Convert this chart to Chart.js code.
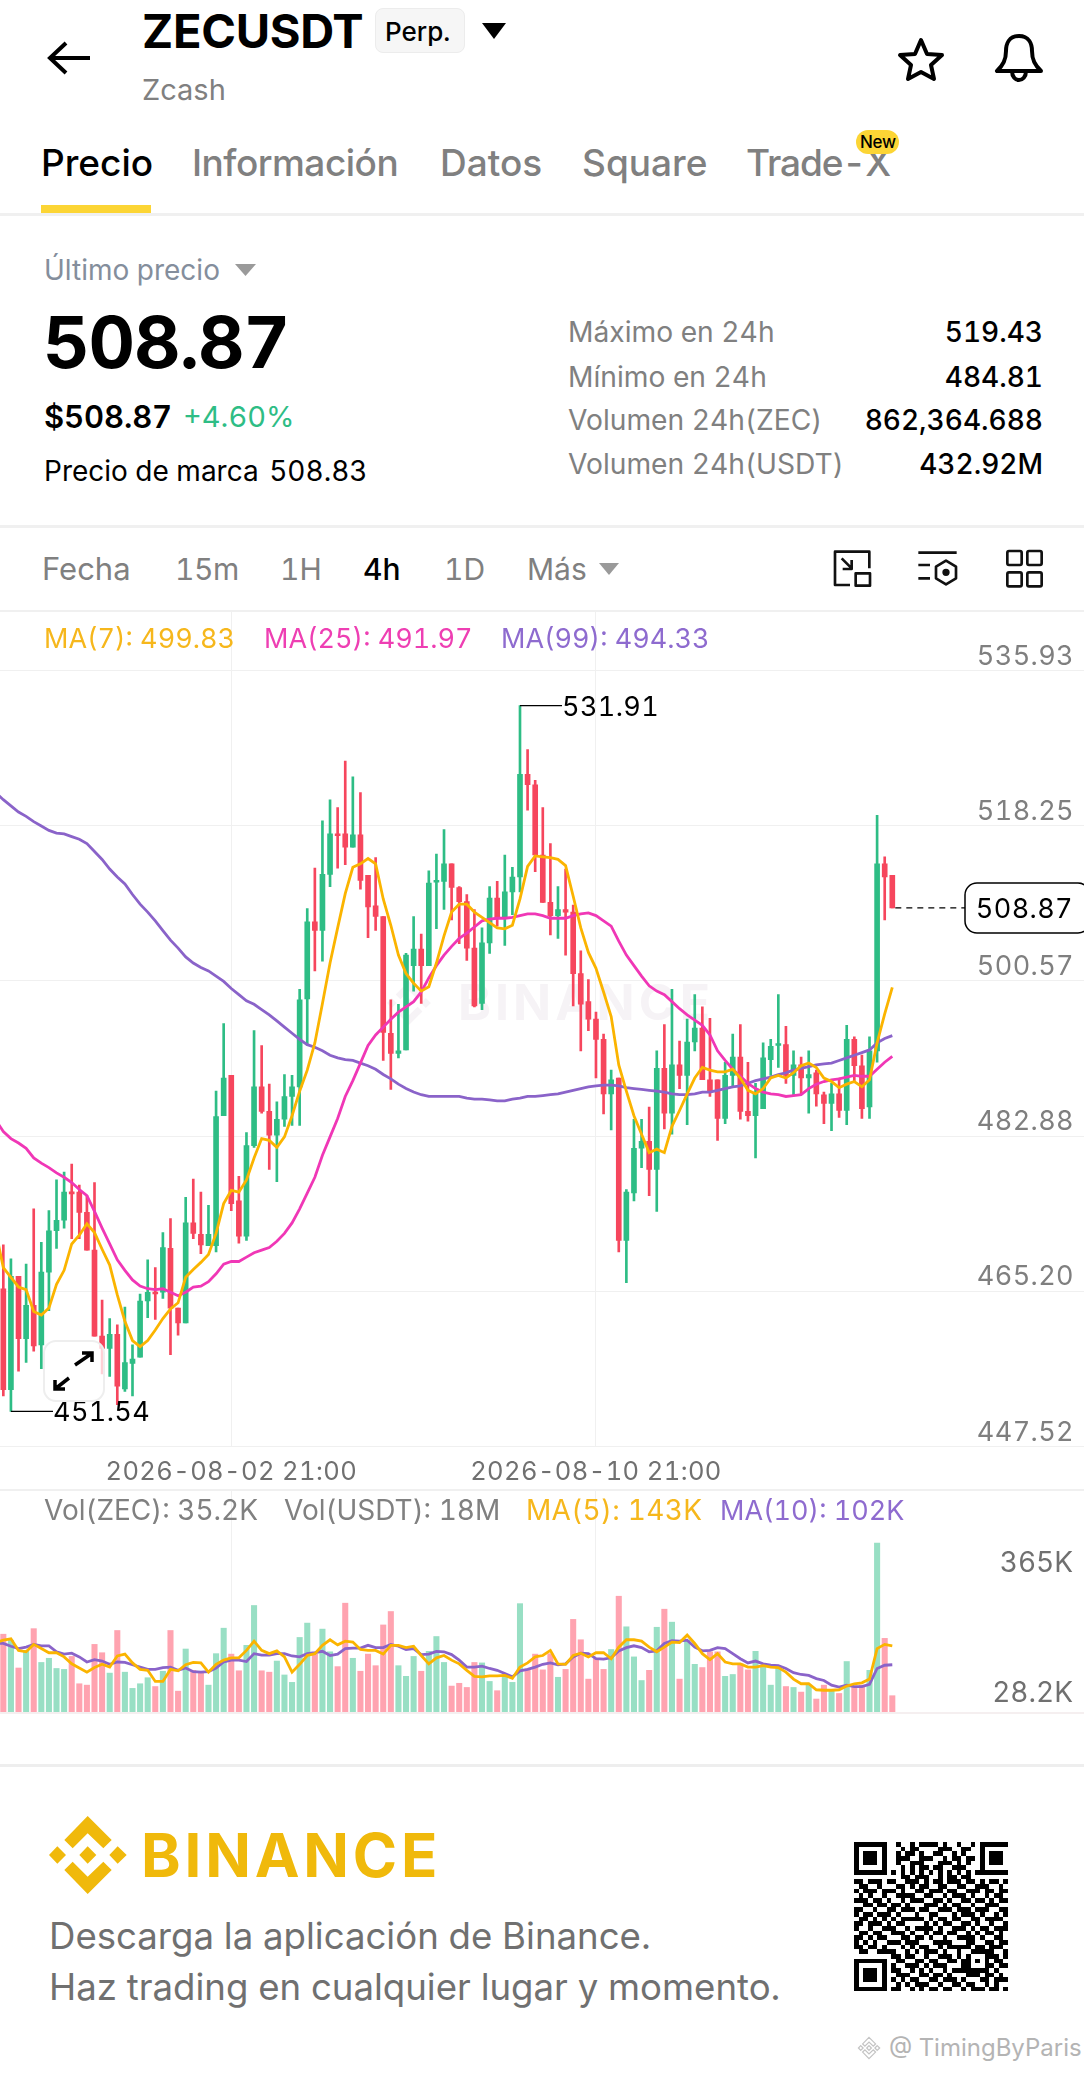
<!DOCTYPE html>
<html>
<head>
<meta charset="utf-8">
<title>ZECUSDT</title>
<script src="https://cdn.jsdelivr.net/npm/chart.js@4"></script>
<style>
html, body { margin: 0; padding: 0; background: #fff; }
body { position: relative; width: 1084px; height: 2073px; overflow: hidden; font-family: Inter, "Noto Sans", sans-serif; font-variant-numeric: tabular-nums; }
.t { position: absolute; transform: translateY(-50%); white-space: nowrap; line-height: 1.2; }
.line { position: absolute; left: 0; width: 1084px; background: #f0f0f0; }
canvas, svg { position: absolute; display: block; }
.g { color: #808080; }
</style>
</head>
<body>

<!-- header -->
<svg style="left:44px;top:38px" width="50" height="40" viewBox="0 0 50 40" fill="none" stroke="#000" stroke-width="4"><path d="M46 20H6M22 5L6 20l16 15"/></svg>
<div class="t" style="left:142px;top:31px;font-size:47px;font-weight:700;letter-spacing:-.3px">ZECUSDT</div>
<div style="position:absolute;left:375px;top:8px;width:88px;height:43px;background:#f6f6f6;border:1px solid #ececec;border-radius:8px"></div>
<div class="t" style="left:385px;top:32px;font-size:26px;font-weight:500">Perp.</div>
<svg style="left:482px;top:23px" width="24" height="16"><path d="M0 0H24L12 16Z" fill="#000"/></svg>
<div class="t g" style="left:142px;top:90px;font-size:29px">Zcash</div>
<svg style="left:897px;top:36px" width="48" height="46" viewBox="0 0 48 46" fill="none" stroke="#000" stroke-width="4" stroke-linejoin="round"><path d="M24 4l6 14 15 1-11 10 3 14-13-7-13 7 3-14L3 19l15-1z"/></svg>
<svg style="left:994px;top:33px" width="50" height="50" viewBox="0 0 50 50" fill="none" stroke="#000" stroke-width="4" stroke-linejoin="round"><path d="M25 3c-10 0-13 8-13 15 0 9-3 14-9 20h44c-6-6-9-11-9-20 0-7-3-15-13-15zM18 38c0 12 14 12 14 0"/></svg>

<!-- tabs -->
<div class="t" style="left:41px;top:163px;font-size:37px;font-weight:500">Precio</div>
<div class="t g" style="left:192px;top:163px;font-size:37px;font-weight:500;letter-spacing:-.5px">Información</div>
<div class="t g" style="left:440px;top:163px;font-size:37px;font-weight:500">Datos</div>
<div class="t g" style="left:582px;top:163px;font-size:37px;font-weight:500">Square</div>
<div class="t g" style="left:746px;top:163px;font-size:37px;font-weight:500;letter-spacing:-1.1px">Trade-X</div>
<div style="position:absolute;left:856px;top:130px;width:43px;height:24px;background:#fcd535;border-radius:12px"></div>
<div class="t" style="left:860px;top:142px;font-size:17px;font-weight:500;letter-spacing:-.3px">New</div>
<div style="position:absolute;left:41px;top:205px;width:110px;height:8px;background:#fcd535"></div>
<div class="line" style="top:213px;height:3px"></div>

<!-- price block -->
<div class="t" style="left:44px;top:271px;font-size:28px;color:#848e9c">Último precio</div>
<svg style="left:235px;top:264px" width="21" height="12"><path d="M0 0H21L10.5 12Z" fill="#9a9a9a"/></svg>
<div class="t" style="left:43px;top:342px;font-size:72px;font-weight:700;letter-spacing:-1px">508.87</div>
<div class="t" style="left:44px;top:417px;font-size:31px;font-weight:600;letter-spacing:-.1px">$508.87</div>
<div class="t" style="left:183px;top:417px;font-size:29px;color:#2ebd85">+4.60%</div>
<div class="t" style="left:44px;top:472px;font-size:28px">Precio de marca <span style="margin-left:3px">508.83</span></div>
<div class="t g" style="left:568px;top:333px;font-size:28.2px">Máximo en 24h</div>
<div class="t g" style="left:568px;top:378px;font-size:28.2px">Mínimo en 24h</div>
<div class="t g" style="left:568px;top:421px;font-size:28.2px">Volumen 24h(ZEC)</div>
<div class="t g" style="left:568px;top:465px;font-size:28.2px">Volumen 24h(USDT)</div>
<div class="t" style="right:41px;top:333px;font-size:28px;font-weight:500">519.43</div>
<div class="t" style="right:41px;top:378px;font-size:28px;font-weight:500">484.81</div>
<div class="t" style="right:41px;top:421px;font-size:28px;font-weight:500">862,364.688</div>
<div class="t" style="right:41px;top:465px;font-size:28px;font-weight:500">432.92M</div>
<div class="line" style="top:525px;height:3px"></div>

<!-- timeframes -->
<div class="t g" style="left:42px;top:569px;font-size:31px">Fecha</div>
<div class="t g" style="left:175px;top:569px;font-size:30px;letter-spacing:-.5px">15m</div>
<div class="t g" style="left:280px;top:569px;font-size:30px">1H</div>
<div class="t" style="left:363px;top:569px;font-size:30px;font-weight:500">4h</div>
<div class="t g" style="left:444px;top:569px;font-size:30px">1D</div>
<div class="t g" style="left:527px;top:569px;font-size:30px">Más</div>
<svg style="left:599px;top:563px" width="20" height="12"><path d="M0 0H20L10 12Z" fill="#9a9a9a"/></svg>
<svg style="left:820px;top:540px" width="240" height="60" viewBox="0 0 720 180" fill="none" stroke="#111" stroke-width="8" stroke-linejoin="round">
  <path d="M90 135H45V35H148V85M107 100h43v37h-43zM65 55l30 30M95 60v27H68"/>
  <path d="M295 38H410M295 75h35M295 115h35M378 62l30 18v35l-30 18-30-18V80z"/>
  <circle cx="378" cy="97" r="7" fill="#111"/>
  <rect x="562" y="33" width="43" height="42" rx="5"/><rect x="622" y="33" width="43" height="42" rx="5"/>
  <rect x="562" y="97" width="43" height="42" rx="5"/><rect x="622" y="97" width="43" height="42" rx="5"/>
</svg>
<div class="line" style="top:610px;height:2px"></div>

<!-- faint mark behind the candles -->
<svg style="left:382px;top:972px" width="62" height="62" viewBox="0 0 330 300" fill="#f6f3f6"><path d="M143 33l72 72-25 25-47-45-45 45-25-25zM143 124l26 26-26 26-25-26zM52 124l26 26-26 26-25-26zM233 124l27 26-27 26-25-26zM143 267l72-72-25-25-47 45-45-45-25 25z"/></svg>
<div class="t" style="left:458px;top:1002px;font-size:50px;font-weight:700;color:#f6f3f6;letter-spacing:4px">BINANCE</div>

<canvas id="priceChart" width="1084" height="878" style="left:0;top:612px;width:1084px;height:878px"></canvas>

<div class="t" style="left:44px;top:639px;font-size:27px;color:#f6b71c">MA(7): 499.83</div>
<div class="t" style="left:264px;top:639px;font-size:27px;color:#ee3fb3">MA(25): 491.97</div>
<div class="t" style="left:501px;top:639px;font-size:27px;color:#8e6bcf">MA(99): 494.33</div>

<svg style="left:42px;top:1339px" width="64" height="64" viewBox="0 0 64 64" fill="rgba(255,255,255,.75)" stroke="#eeeeee" stroke-width="2"><rect x="2" y="2" width="60" height="60" rx="12"/><path d="M13 50L27 39M13 41v9h10M33 26l16-11M40 14h10v9" fill="none" stroke="#000" stroke-width="3.5"/></svg>

<!-- volume -->
<div class="line" style="top:1489px;height:2px"></div>
<canvas id="volChart" width="1084" height="222" style="left:0;top:1490px;width:1084px;height:222px"></canvas>
<div class="line" style="top:1712px;height:2px;background:#f5eff0"></div>
<div class="t g" style="left:44px;top:1511px;font-size:28px">Vol(ZEC): 35.2K</div>
<div class="t g" style="left:284px;top:1511px;font-size:28px">Vol(USDT): 18M</div>
<div class="t" style="left:526px;top:1511px;font-size:28px;letter-spacing:.3px;color:#f6b71c">MA(5): 143K</div>
<div class="t" style="left:720px;top:1511px;font-size:27px;color:#8e6bcf">MA(10): 102K</div>

<!-- footer -->
<div class="line" style="top:1764px;height:3px;background:#eeeeee"></div>
<svg style="left:40px;top:1805px" width="110" height="100" viewBox="0 0 330 300" fill="#f0b90b"><path d="M143 33l72 72-25 25-47-45-45 45-25-25zM143 124l26 26-26 26-25-26zM52 124l26 26-26 26-25-26zM233 124l27 26-27 26-25-26zM143 267l72-72-25-25-47 45-45-45-25 25z"/></svg>
<div class="t" style="left:141px;top:1855px;font-size:60px;font-weight:700;color:#f0b90b;letter-spacing:3.8px">BINANCE</div>
<div class="t" style="left:49px;top:1937px;font-size:36.6px;color:#707070">Descarga la aplicación de Binance.</div>
<div class="t" style="left:49px;top:1988px;font-size:36.6px;color:#707070">Haz trading en cualquier lugar y momento.</div>
<svg id="qr" style="left:854px;top:1842px" width="154" height="154" viewBox="0 0 33 33" shape-rendering="crispEdges"></svg>
<svg style="left:856px;top:2032px" width="30" height="32" viewBox="0 0 330 300" fill="none" stroke="#c4c4c4" stroke-width="14"><path d="M143 33l72 72-25 25-47-45-45 45-25-25zM143 124l26 26-26 26-25-26zM52 124l26 26-26 26-25-26zM233 124l27 26-27 26-25-26zM143 267l72-72-25-25-47 45-45-45-25 25z"/></svg>
<div class="t" style="left:889px;top:2048px;font-size:24px;color:#b4b4b4">@ TimingByParis</div>

<script>
"use strict";

var candleOpen = [465.5,454.0,466.9,459.8,463.6,459.1,467.4,472.1,473.3,476.5,476.5,474.2,469.9,460.1,458.7,460.3,454.1,457.0,457.7,464.1,
  465.1,465.1,470.1,463.3,461.6,473.0,471.7,470.4,470.4,485.2,489.8,475.5,471.5,481.8,488.5,485.7,483.0,484.8,487.4,488.5,
  498.5,507.3,506.3,512.7,517.3,517.3,515.8,517.2,512.6,509.1,507.9,494.6,492.3,492.7,502.3,504.2,502.3,511.8,511.9,513.9,
  511.2,509.6,504.3,498.0,504.9,510.0,507.8,510.7,512.4,524.1,522.9,514.9,509.5,508.0,508.7,508.4,501.4,498.2,496.2,493.9,
  487.7,489.5,471.0,476.4,481.5,482.3,479.1,490.6,485.5,491.0,489.8,493.6,495.2,489.3,489.3,484.9,489.8,491.9,485.7,485.2,
  486.0,491.6,493.2,493.3,489.8,491.0,489.5,490.1,487.6,486.6,487.7,485.8,493.9,490.9,486.2,492.6,513.9,512.6];
var candleHigh = [470.5,468.9,466.9,468.3,474.6,470.8,474.4,477.9,478.8,479.7,477.3,476.1,477.6,464.2,462.1,461.4,463.4,459.1,464.9,468.8,
  467.9,471.9,473.5,463.3,475.9,478.0,476.5,475.0,488.0,495.7,489.8,478.3,483.3,494.9,493.2,488.8,486.8,489.9,489.8,499.6,
  508.8,513.4,518.8,521.2,520.3,525.6,523.8,522.0,512.6,514.6,507.9,498.4,497.9,503.7,507.9,505.9,513.1,515.0,517.8,513.9,
  511.3,510.4,508.7,506.6,511.3,511.9,514.9,513.5,531.91,526.9,523.4,520.3,516.2,511.3,513.3,509.2,504.0,500.7,497.0,494.5,
  490.4,489.5,476.8,484.8,484.8,486.2,492.6,495.6,499.6,493.7,496.2,499.0,497.6,496.3,489.3,491.3,494.5,495.6,491.3,488.9,
  493.5,493.9,499.0,495.4,492.6,491.9,492.6,490.4,487.9,488.9,489.5,495.5,494.2,492.1,494.2,519.43,514.7,512.6];
var candleLow = [453.3,451.54,456.1,457.1,458.4,456.4,463.0,470.1,472.4,471.2,471.2,469.9,460.1,455.8,455.5,452.3,453.8,453.3,457.7,462.2,
  462.0,464.4,458.0,460.2,461.6,471.2,469.5,470.4,469.7,485.2,474.4,470.7,471.0,481.6,485.5,479.1,477.7,484.0,484.1,484.1,
  493.2,501.7,502.8,511.3,513.4,513.8,515.8,511.0,505.5,506.3,491.5,488.2,491.8,492.7,499.4,498.0,502.3,506.5,508.7,507.5,
  504.8,502.9,497.6,497.3,503.7,506.8,504.6,508.1,510.7,520.0,513.0,509.5,505.8,505.4,503.5,497.7,492.6,494.9,489.5,485.4,
  483.6,469.7,466.2,475.5,479.3,476.1,474.3,483.7,483.1,488.3,484.2,492.6,489.3,487.4,482.4,484.3,488.6,484.8,484.6,480.4,
  486.0,489.8,490.7,488.9,487.5,487.6,485.5,486.3,484.3,483.5,485.0,484.2,489.1,484.9,484.9,491.3,507.5,508.87];
var candleClose = [454.0,466.9,459.8,463.6,459.0,467.4,472.1,473.3,476.5,476.3,474.2,469.9,460.1,458.7,460.3,454.4,457.1,457.5,464.1,465.1,
  464.9,470.2,463.3,461.6,473.0,471.8,470.5,471.7,485.1,489.5,475.2,471.5,481.8,488.5,485.7,483.0,484.8,487.4,488.5,498.4,
  507.3,506.3,512.7,517.3,517.1,515.8,517.2,512.0,509.0,507.9,494.7,492.3,492.6,503.5,504.2,502.3,511.7,511.9,513.9,511.2,
  509.6,504.3,497.7,504.9,510.0,507.8,510.7,512.4,524.1,522.9,514.9,509.5,508.0,508.7,508.4,501.4,497.9,496.2,493.9,487.7,
  489.3,471.0,476.5,481.5,482.3,479.1,490.6,485.5,491.0,489.8,493.6,495.2,489.3,488.0,484.9,489.8,491.9,485.7,485.2,487.7,
  491.8,493.1,493.3,489.8,491.0,489.5,489.9,487.7,486.6,487.7,485.8,493.9,490.9,486.0,492.6,513.9,512.4,508.87];

var ma7 = [467.9,466.8,465.7,465.4,462.9,462.5,463.3,466.0,467.6,470.6,471.6,472.9,471.9,470.0,468.2,464.8,461.8,459.6,458.9,459.6,
  460.8,462.1,463.2,463.9,466.8,467.7,468.5,469.4,471.8,475.2,476.7,476.5,477.9,480.4,482.6,482.4,481.6,482.8,485.2,488.0,
  490.4,493.5,498.0,502.6,506.6,510.5,513.5,513.9,514.5,513.9,509.9,506.9,503.5,501.4,500.3,499.4,499.9,502.6,505.7,508.4,
  509.3,509.3,508.4,507.8,507.2,506.6,506.5,506.9,509.9,513.6,514.8,514.7,514.6,514.4,513.7,510.2,506.6,503.8,502.0,499.3,
  496.5,491.0,488.0,485.2,483.1,481.0,481.4,481.0,484.0,485.8,487.7,489.5,490.7,490.4,490.2,490.2,490.5,489.5,488.1,487.7,
  488.3,489.5,489.8,489.5,490.1,490.9,491.2,490.7,489.5,489.1,488.4,488.8,489.1,488.5,489.3,493.5,496.8,499.83];
var ma25 = [483.4,482.6,482.1,481.5,480.4,479.8,479.3,478.7,478.2,477.6,476.8,476.1,474.3,472.4,470.6,468.8,467.6,466.5,465.8,465.5,
  465.4,465.5,465.1,464.7,465.1,465.7,465.8,466.3,467.2,468.3,468.6,468.6,469.1,469.6,469.9,470.2,470.9,471.8,473.0,474.6,
  476.4,478.2,480.7,482.8,484.9,487.4,489.2,491.2,493.2,494.4,495.3,496.2,497.0,497.6,498.2,499.3,500.9,502.3,503.5,504.5,
  505.4,506.0,506.7,507.4,507.6,507.7,507.7,507.8,508.0,508.2,508.2,508.0,507.7,507.7,507.7,508.0,508.2,508.3,508.0,507.4,
  506.8,505.1,503.5,502.3,501.1,500.0,499.4,499.0,498.2,497.4,496.7,496.1,495.5,494.4,492.6,491.5,490.5,489.7,488.9,488.3,
  487.9,487.7,487.6,487.4,487.5,487.6,488.3,488.8,489.1,489.3,489.4,489.6,489.8,489.7,489.7,490.5,491.3,491.97];
var ma99 = [521.2,520.5,519.8,519.3,518.7,518.2,517.7,517.4,517.3,517.0,516.7,516.2,515.3,514.4,513.3,512.4,511.6,510.4,509.3,508.4,
  507.4,506.3,505.2,504.3,503.3,502.6,502.1,501.7,501.1,500.5,499.7,499.0,498.3,497.9,497.3,496.7,496.0,495.3,494.6,493.9,
  493.3,493.0,492.6,492.1,491.8,491.6,491.5,491.2,490.9,490.5,489.9,489.4,488.8,488.3,487.9,487.6,487.4,487.4,487.4,487.4,
  487.4,487.2,487.1,487.1,487.0,486.9,486.9,487.1,487.2,487.4,487.4,487.5,487.6,487.7,487.9,488.1,488.3,488.5,488.6,488.7,
  488.7,488.6,488.4,488.3,488.2,488.1,488.0,487.9,487.7,487.6,487.6,487.7,487.9,487.9,488.1,488.3,488.5,488.6,488.9,489.2,
  489.4,489.6,489.9,490.1,490.4,490.6,490.8,491.0,491.1,491.2,491.5,491.8,492.1,492.4,492.7,493.5,494.0,494.33];
// where each average comes in from off the left edge (one candle before the first)
var ma7Lead = 472.0, ma25Lead = 484.7, ma99Lead = 522.0;

// volume in thousands
var volume = [168,155,95,133,180,107,116,94,92,120,61,58,146,128,84,176,86,51,61,74,
  55,88,176,45,136,90,86,58,126,181,125,89,144,230,89,86,110,80,64,161,
  192,125,179,130,98,235,116,88,125,100,188,217,100,77,120,88,131,163,107,56,
  62,53,107,106,66,46,76,64,234,90,125,91,126,75,92,200,156,71,115,92,
  135,250,184,119,68,90,183,222,194,71,155,103,96,130,130,77,81,104,91,131,
  97,58,94,55,53,43,58,28,58,47,40,109,54,58,90,365,159,35.2];
var volMa5 = [155,158,133,130,146,137,128,128,119,104,95,86,96,103,97,121,125,106,92,90,
  66,66,92,89,102,107,106,86,103,112,117,117,133,153,133,126,132,119,86,103,
  122,126,144,156,145,153,151,135,133,133,125,144,144,139,142,122,104,117,122,112,
  104,90,77,76,78,78,79,73,97,106,119,122,133,104,103,122,127,119,128,128,
  115,140,156,156,153,140,130,140,151,150,166,148,126,113,126,108,104,104,97,97,
  100,97,96,86,71,61,61,48,47,47,48,56,61,63,71,137,146,143];
var volMa10 = [148,142,137,140,146,143,143,130,125,127,119,108,113,110,103,108,107,102,97,92,
  92,96,97,90,95,87,86,87,95,108,112,112,109,126,123,123,126,126,121,119,
  126,128,131,122,125,137,138,138,144,139,139,146,142,135,137,124,125,131,130,124,
  112,97,97,99,94,90,83,76,89,92,97,103,106,102,104,119,127,126,115,114,
  117,132,139,143,139,130,132,148,154,153,155,140,132,133,139,137,126,115,106,110,
  104,101,100,94,85,81,79,72,68,58,54,58,55,55,60,94,101,102];
var volMa5Lead = 150, volMa10Lead = 148;

var priceTicks = [535.93,518.25,500.57,482.88,465.20,447.52];
var volTicks = [365,28.2];
var volTickLabels = ["365K","28.2K"];
var dateTicks = [30,78];
var dateLabels = ["2026-08-02 21:00","2026-08-10 21:00"];
var lastPrice = 508.87;
var highIdx = 68, highPrice = 531.91;
var lowIdx = 1, lowPrice = 451.54;

var GREEN = "#2ebd85", RED = "#f6465d";
var FONT = "Inter, 'Noto Sans', sans-serif";
var XMIN = -0.438, XMAX = 142.23;

var candleColor = candleOpen.map(function (o, i) { return candleClose[i] >= o ? GREEN : RED; });
var volColor = candleOpen.map(function (o, i) { return candleClose[i] >= o ? "#98dfc4" : "#ffa3b0"; });

function lineSet(arr, lead, color, order) {
    var pts = arr.map(function (v, i) { return { x: i, y: v }; });
    pts.unshift({ x: -1, y: lead });
    return { type: "line", data: pts, borderColor: color, borderWidth: 2.8, pointRadius: 0, order: order };
}
function noPadding(s) {
    s.paddingTop = 0; s.paddingBottom = 0; s.paddingLeft = 0; s.paddingRight = 0;
}

// last price tag and the high / low callouts
var pricePlugin = {
    id: "priceNotes",
    beforeDraw: function (chart) { chart.ctx.letterSpacing = "0.4px"; },
    afterDatasetsDraw: function (chart) {
        var c = chart.ctx, xs = chart.scales.x, ys = chart.scales.y;
        c.save();
        c.strokeStyle = "#000";
        c.fillStyle = "#000";
        c.lineWidth = 1.2;
        c.font = "27px " + FONT;
        c.textBaseline = "middle";

        var y = ys.getPixelForValue(lowPrice), x = xs.getPixelForValue(lowIdx);
        c.beginPath(); c.moveTo(x, y); c.lineTo(53, y); c.stroke();
        c.fillText(lowPrice.toFixed(2), 53, y + 2);

        y = ys.getPixelForValue(highPrice); x = xs.getPixelForValue(highIdx);
        c.beginPath(); c.moveTo(x, y); c.lineTo(562, y); c.stroke();
        c.fillText(highPrice.toFixed(2), 562, y + 2);

        y = ys.getPixelForValue(lastPrice);
        x = xs.getPixelForValue(candleClose.length - 1) + 3;
        c.setLineDash([6, 5]);
        c.beginPath(); c.moveTo(x, y); c.lineTo(965, y); c.stroke();
        c.setLineDash([]);
        c.fillStyle = "#fff";
        c.lineWidth = 1.5;
        c.beginPath(); c.roundRect(965, y - 25, 125, 50, 12); c.fill(); c.stroke();
        c.fillStyle = "#000";
        c.textAlign = "right";
        c.fillText(lastPrice.toFixed(2), 1073, y + 2);
        c.restore();
    }
};

new Chart(document.getElementById("priceChart"), {
    type: "bar",
    plugins: [pricePlugin],
    data: {
        datasets: [
            lineSet(ma7, ma7Lead, "#fbb400", 1),
            lineSet(ma25, ma25Lead, "#f037b6", 2),
            lineSet(ma99, ma99Lead, "#8a63c9", 3),
            {
                data: candleOpen.map(function (o, i) { return { x: i, y: [o, candleClose[i]] }; }),
                backgroundColor: candleColor, barThickness: 5, minBarLength: 2, order: 10, grouped: false
            },
            {
                data: candleLow.map(function (l, i) { return { x: i, y: [l, candleHigh[i]] }; }),
                backgroundColor: candleColor, barThickness: 2, order: 11, grouped: false
            }
        ]
    },
    options: {
        responsive: false,
        animation: false,
        devicePixelRatio: 1,
        layout: { padding: 0 },
        plugins: { legend: { display: false }, tooltip: { enabled: false } },
        scales: {
            x: {
                type: "linear", min: XMIN, max: XMAX, offset: false,
                grid: { color: "#f0f0f0", drawTicks: false, offset: false },
                border: { display: false },
                afterBuildTicks: function (s) { s.ticks = dateTicks.map(function (v) { return { value: v }; }); },
                afterFit: function (s) { s.height = 43.4; noPadding(s); },
                ticks: {
                    autoSkip: false, maxRotation: 0, padding: 10, color: "#707070",
                    font: { family: FONT, size: 25.5 },
                    callback: function (v) { return dateLabels[dateTicks.indexOf(v)]; }
                }
            },
            y: {
                position: "right", min: 447.52, max: 542.58,
                grid: { color: "#f0f0f0", drawTicks: false },
                border: { display: false },
                afterBuildTicks: function (s) { s.ticks = priceTicks.map(function (v) { return { value: v }; }); },
                afterFit: function (s) { s.width = 0; noPadding(s); },
                ticks: {
                    mirror: true, padding: -10, labelOffset: -14, color: "#7f7f7f",
                    font: { family: FONT, size: 27 },
                    callback: function (v) { return v.toFixed(2); }
                }
            }
        }
    }
});

var volPlugin = {
    id: "volNotes",
    afterDatasetsDraw: function (chart) {
        var c = chart.ctx, ys = chart.scales.y;
        var shift = [20.6, -5.6];
        c.save();
        c.fillStyle = "#707070";
        c.font = "28px " + FONT;
        c.textAlign = "right";
        c.textBaseline = "middle";
        volTicks.forEach(function (v, i) {
            c.fillText(volTickLabels[i], 1073, ys.getPixelForValue(v) + shift[i]);
        });
        c.restore();
    }
};

new Chart(document.getElementById("volChart"), {
    type: "bar",
    plugins: [volPlugin],
    data: {
        datasets: [
            lineSet(volMa5, volMa5Lead, "#fbb400", 1),
            lineSet(volMa10, volMa10Lead, "#8a63c9", 2),
            {
                data: volume.map(function (v, i) { return { x: i, y: v }; }),
                backgroundColor: volColor, barThickness: 5.4, order: 10
            }
        ]
    },
    options: {
        responsive: false,
        animation: false,
        devicePixelRatio: 1,
        layout: { padding: 0 },
        plugins: { legend: { display: false }, tooltip: { enabled: false } },
        scales: {
            x: {
                type: "linear", min: XMIN, max: XMAX, offset: false,
                grid: { color: "#f0f0f0", drawTicks: false, offset: false },
                border: { display: false },
                afterBuildTicks: function (s) { s.ticks = dateTicks.map(function (v) { return { value: v }; }); },
                afterFit: function (s) { s.height = 0; noPadding(s); },
                ticks: { display: false }
            },
            y: {
                min: 0, max: 479.4,
                grid: { display: false },
                border: { display: false },
                ticks: { display: false },
                afterFit: function (s) { s.width = 0; noPadding(s); }
            }
        }
    }
});

// footer QR, drawn row by row
var qrRows = [
"111111100100101111010010010111111",
"100000100010110000111001100100000",
"101110100101101001100101000101110",
"101110100111001110010110110101110",
"101110100100111000111010100101110",
"100000100010101101100111000100000",
"111111101010101010101010101111111",
"000000000011011100101101100000000",
"110111011001110101101110110101101",
"011001000110101100110011001110010",
"101110111010011011101100111011011",
"010100100111100110010111010010110",
"111011010010111001101001101101011",
"001101101101000111010110010011100",
"110010011011101100111011101110011",
"101101110100010011000101110100101",
"011010101011111010110110011011110",
"110111010110000101011001101001001",
"100100111001011110100111010110111",
"011011001110100101101100101011010",
"110101100011011010010011110100110",
"101010011101110001111000110011011",
"110110100010101100101111101101110",
"011001111001010111010010011111001",
"000000001101100100111010100011101",
"111111100110011011001101101010110",
"100000101001110101110001100011011",
"101110101100101010010111111110100",
"101110100111001101101000111011010",
"101110101010110011011101000110111",
"100000100101011100100110110010100",
"111111101100101011011001011101101",
"000000000000000000000000000000000"
];
var qrSvg = document.getElementById("qr"), qrPath = "";
qrRows.forEach(function (row, r) {
    row.split("").forEach(function (b, c) {
        if (b === "1") qrPath += "M" + c + " " + r + "h1v1h-1z";
    });
});
qrSvg.innerHTML = '<path d="' + qrPath + '" fill="#000"/>';
</script>
</body>
</html>
